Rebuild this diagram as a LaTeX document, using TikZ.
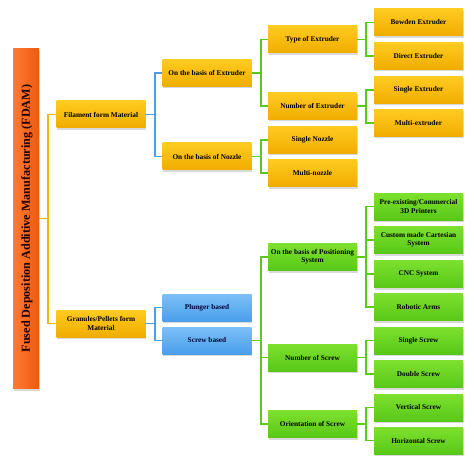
\documentclass[tikz,border=0pt]{standalone}
\usepackage{fontspec}
\setmainfont{Liberation Serif}
\usetikzlibrary{shadows}
\definecolor{yfill1}{HTML}{FFCB20}
\definecolor{yfill2}{HTML}{F0AC00}
\definecolor{gfill1}{HTML}{7EE02E}
\definecolor{gfill2}{HTML}{58C818}
\definecolor{bfill1}{HTML}{7CC0F8}
\definecolor{bfill2}{HTML}{4A9EEA}
\definecolor{ofill1}{HTML}{FF7A36}
\definecolor{ofill2}{HTML}{EE5A0C}
\definecolor{yline}{HTML}{F5B800}
\definecolor{gline}{HTML}{5CC81C}
\definecolor{bline}{HTML}{4A9EE8}
\tikzset{
  boxbase/.style={rectangle, minimum width=89pt, minimum height=27pt, inner sep=1pt,
    align=center, font=\fontsize{7.3}{8.4}\selectfont\bfseries,
    drop shadow={shadow xshift=0.8pt, shadow yshift=-2pt, opacity=0.3}},
  ybox/.style={boxbase, top color=yfill1, bottom color=yfill2, text=black},
  gbox/.style={boxbase, top color=gfill1, bottom color=gfill2, text=black},
  bbox/.style={boxbase, top color=bfill1, bottom color=bfill2, text={black!80!blue}},
  rootbox/.style={rectangle, minimum width=26pt, minimum height=339pt, inner sep=0pt,
    left color=ofill1, right color=ofill2,
    drop shadow={shadow xshift=0.8pt, shadow yshift=-2.5pt, opacity=0.3}},
  ylink/.style={draw=yline, line width=1.8pt},
  glink/.style={draw=gline, line width=1.8pt},
  blink/.style={draw=bline, line width=1.8pt},
}
\begin{document}
\begin{tikzpicture}[x=1pt,y=-1pt]
\useasboundingbox (0,0) rectangle (474,468);
% root
\node[rootbox] (root) at (26,218.5) {};
\node[rotate=90, font=\fontsize{12.2}{14}\selectfont\bfseries, text=black!85!red] (roottext) at (27,218.5) {Fused Deposition Additive Manufacturing (FDAM)};
% level 1
\node[ybox] (fil) at (101,114.5) {Filament form Material};
\node[ybox] (gran) at (101,323.5) {Granules/Pellets form\\Material};
% level 2
\node[ybox] (ext) at (207,73) {On the basis of Extruder};
\node[ybox] (noz) at (207,156.5) {On the basis of Nozzle};
\node[bbox] (plu) at (207,307.5) {Plunger based};
\node[bbox] (scr) at (207,340.5) {Screw based};
% level 3
\node[ybox] (type) at (312.5,39.5) {Type of Extruder};
\node[ybox] (numext) at (312.5,106) {Number of Extruder};
\node[ybox] (sn) at (312.5,140) {Single Nozzle};
\node[ybox] (mn) at (312.5,173) {Multi-nozzle};
\node[gbox] (pos) at (312.5,257) {On the basis of Positioning\\System};
\node[gbox] (nsc) at (312.5,357.5) {Number of Screw};
\node[gbox] (ori) at (312.5,424) {Orientation of Screw};
% level 4
\node[ybox] (bow) at (418.5,22.5) {Bowden Extruder};
\node[ybox] (dir) at (418.5,56) {Direct Extruder};
\node[ybox] (sex) at (418.5,90) {Single Extruder};
\node[ybox] (mex) at (418.5,123) {Multi-extruder};
\node[gbox] (pre) at (418.5,206.5) {Pre-existing/Commercial\\3D Printers};
\node[gbox] (cus) at (418.5,240) {Custom made Cartesian\\System};
\node[gbox] (cnc) at (418.5,274) {CNC System};
\node[gbox] (rob) at (418.5,307) {Robotic Arms};
\node[gbox] (ss) at (418.5,340.5) {Single Screw};
\node[gbox] (ds) at (418.5,374) {Double Screw};
\node[gbox] (vs) at (418.5,407.5) {Vertical Screw};
\node[gbox] (hs) at (418.5,440.5) {Horizontal Screw};
% connectors
\foreach \c in {fil,gran} \draw[ylink] (root.east) -- ++(9,0) |- (\c.west);
\foreach \c in {ext,noz} \draw[blink] (fil.east) -- ++(9,0) |- (\c.west);
\foreach \c in {plu,scr} \draw[blink] (gran.east) -- ++(9,0) |- (\c.west);
\foreach \c in {type,numext} \draw[glink] (ext.east) -- ++(9,0) |- (\c.west);
\foreach \c in {sn,mn} \draw[glink] (noz.east) -- ++(9,0) |- (\c.west);
\foreach \c in {pos,nsc,ori} \draw[glink] (scr.east) -- ++(9,0) |- (\c.west);
\foreach \c in {bow,dir} \draw[glink] (type.east) -- ++(9,0) |- (\c.west);
\foreach \c in {sex,mex} \draw[glink] (numext.east) -- ++(9,0) |- (\c.west);
\foreach \c in {pre,cus,cnc,rob} \draw[glink] (pos.east) -- ++(9,0) |- (\c.west);
\foreach \c in {ss,ds} \draw[glink] (nsc.east) -- ++(9,0) |- (\c.west);
\foreach \c in {vs,hs} \draw[glink] (ori.east) -- ++(9,0) |- (\c.west);
\end{tikzpicture}
\end{document}
